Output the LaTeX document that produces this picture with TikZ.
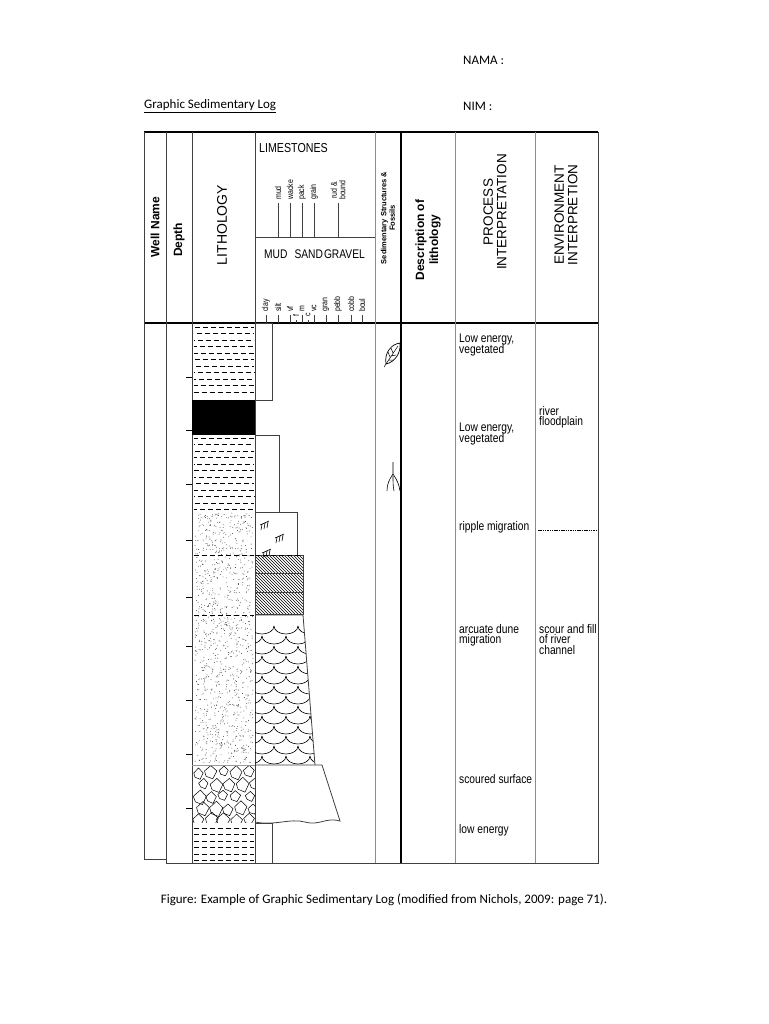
\documentclass[tikz,border=0pt]{standalone}
\usepackage{fontspec}
\setmainfont{Carlito}
\newfontfamily\arl[FakeStretch=0.82]{Liberation Sans}
\newfontfamily\arw{Liberation Sans}
\usetikzlibrary{patterns}
\begin{document}
\begin{tikzpicture}[x=1pt,y=-1pt,
  grid/.style={line width=0.8pt,draw=black!75},
  thk/.style={line width=1.4pt},
  lab/.style={font=\arl\fontsize{12.5}{12.5}\selectfont,anchor=north west,align=left,inner sep=0},
  rot/.style={rotate=90,align=center,inner sep=0},
  tk/.style={font=\arl\fontsize{8.5}{8.5}\selectfont,rotate=90,anchor=west,inner sep=1pt},
  mudd/.style={dash pattern=on 5pt off 3pt,line width=0.9pt}]
\useasboundingbox (0,0) rectangle (768,1024);
% top texts
\node[anchor=west,inner sep=0,font=\fontsize{13}{13}\selectfont] (nama) at (463,60) {NAMA :};
\node[anchor=west,inner sep=0,font=\fontsize{13}{13}\selectfont] (nim) at (463,106) {NIM :};
\node[anchor=west,inner sep=0,font=\fontsize{13}{13}\selectfont] (title) at (144,106) {\underline{Graphic Sedimentary Log}};
\node[inner sep=0,font=\fontsize{13}{13}\selectfont] (cap) at (384,900) {Figure: Example of Graphic Sedimentary Log (modified from Nichols, 2009: page 71).};
% table frame
\draw[thk] (144,132) -- (598,132);
\draw[thk] (144,323) -- (598,323);
\draw[grid] (144,132) -- (144,859) -- (166,859);
\draw[grid] (166,132) -- (166,863) -- (598,863) -- (598,132);
\draw[grid] (192,132) -- (192,863);
\draw[grid] (255,132) -- (255,863);
\draw[grid,draw=black!45] (375,132) -- (375,863);
\draw[thk] (401,132) -- (401,863);
\draw[grid,draw=black!45] (455,132) -- (455,863);
\draw[grid,draw=black!45] (535,132) -- (535,863);
\draw[grid] (255,237) -- (375,237);
% header labels
\node[rot,font=\arw\bfseries\fontsize{12}{12}\selectfont] (wn) at (155,227) {Well Name};
\node[rot,font=\arw\bfseries\fontsize{12}{12}\selectfont] (dp) at (179,240) {Depth};
\node[rot,font=\arw\fontsize{14}{14}\selectfont] (li) at (222,225) {LITHOLOGY};
\node[rot,font=\arw\bfseries\fontsize{7.5}{8.5}\selectfont] (ss) at (388,218) {Sedimentary Structures \&\\Fossils};
\node[rot,font=\arw\bfseries\fontsize{12}{14}\selectfont] (de) at (428,240) {Description of\\lithology};
\node[rot,font=\arw\fontsize{13.5}{13.5}\selectfont] (pr) at (495,212) {PROCESS\\INTERPRETATION};
\node[rot,font=\arw\fontsize{13.5}{13.5}\selectfont] (en) at (566,215) {ENVIRONMENT\\INTERPRETION};
\node[anchor=west,inner sep=0,font=\arl\fontsize{13}{13}\selectfont] (ls) at (259,148) {LIMESTONES};
\node[anchor=west,inner sep=0,font=\arl\fontsize{12.5}{12.5}\selectfont] (msg) at (264,254) {MUD\hspace{7pt}SAND\hspace{1pt}GRAVEL};
\foreach \x/\t in {278/mud,290/wacke,302/pack,314/grain}{
  \node[tk] at (\x,201) {\t};
  \draw[grid,line width=0.6pt] (\x,203) -- (\x,237);}
\node[rotate=90,anchor=west,inner sep=1pt,align=center,font=\arl\fontsize{8.5}{8.5}\selectfont] at (338,201) {rud \&\\bound};
\draw[grid,line width=0.6pt] (338,203) -- (338,237);
\foreach \x/\t/\yy in {266/clay/313,278/silt/313,290/vf/313,296/f/318,302/m/313,308/c/318,314/vc/313,326/gran/313,338/pebb/313,351/cobb/313,362/boul/313}{
  \node[tk] at (\x,\yy) {\t};
  \draw[grid,line width=0.6pt] (\x,\yy+2) -- (\x,323);}
% depth ticks
\foreach \y in {377,430,484,540,597,646,700,754,808} \draw[line width=0.9pt] (186,\y) -- (192,\y);
% mud units
\foreach \y in {327,333.5,...,398} \draw[mudd,dash phase=\y] (194,\y) -- (254,\y);
\foreach \y in {438,444.5,...,510} \draw[mudd,dash phase=\y*1.7] (194,\y) -- (254,\y);
\foreach \y in {828,834.5,...,861} \draw[mudd] (194,\y) -- (254,\y);
% coal
\fill (192,400) rectangle (255,435);
% sand dots
\pgfmathsetseed{7}
\foreach \i in {1,...,1100} \fill[black!75] ({195+58*rnd},{513+250*rnd}) circle (0.45);
\draw[mudd,line width=0.8pt] (194,555) -- (254,555);
\draw[mudd,line width=0.8pt] (194,615) -- (254,615);
% conglomerate
\begin{scope}
\clip (193,766) rectangle (255,822);
\foreach \i in {0,...,4} \foreach \j in {0,...,4}{
  \pgfmathsetmacro\cx{197+\j*12.5+5*mod(\i,2)+3*rnd}
  \pgfmathsetmacro\cy{771+\i*12+3*rnd}
  \pgfmathsetmacro\s{0.9+0.6*rnd}
  \draw[line width=0.5pt] ({\cx-4*\s-rnd},{\cy-1*\s}) -- ({\cx+0.5*\s},{\cy-5*\s-rnd}) -- ({\cx+4.5*\s+rnd},{\cy-1*\s}) -- ({\cx+2*\s},{\cy+4.5*\s+rnd}) -- ({\cx-3*\s},{\cy+3*\s}) -- cycle;}
\end{scope}
\draw[black!40] (192,765) -- (255,765);
% grain-size boxes
\draw[grid] (255,323) -- (272,323) -- (272,400) -- (255,400);
\draw[grid] (255,435) -- (279,435) -- (279,512) -- (255,512);
\draw[grid] (255,512) rectangle (297,555);
\begin{scope}
\clip (255,555) rectangle (303,614);
\fill[pattern=north west lines] (255,555) rectangle (303,614);
\end{scope}
\draw[grid] (255,555) rectangle (303,614);
\draw[grid] (255,573) -- (303,573) (255,592) -- (303,592);
\draw[mudd,line width=0.8pt] (255,555) -- (303,555);
\begin{scope}
\clip (255,615) -- (303,615) -- (315,765) -- (255,765) -- cycle;
\foreach \r in {0,...,15}{
  \pgfmathsetmacro\yy{626+\r*10}
  \pgfmathsetmacro\off{mod(\r,2)*12}
  \foreach \k in {-1,...,3} \draw[line width=0.6pt] ({250+\off+\k*24},\yy) arc (180:0:12 and 8);}
\end{scope}
\draw[grid] (255,615) -- (303,615) -- (315,765);
\draw[grid] (255,765) -- (322,765) -- (340,821) .. controls (325,817) and (320,826) .. (305,822) .. controls (290,818) and (275,826) .. (255,822);
\draw[grid] (255,823) -- (272,823) -- (272,863);
% ripple symbols
\foreach \px/\py in {260/521,275/534,262/549}{
  \draw[line width=0.6pt] (\px,\py+4) -- (\px+9,\py) (\px+2,\py+3.5) -- (\px+1,\py+9) (\px+5,\py+2.2) -- (\px+4,\py+8) (\px+8,\py+1) -- (\px+7,\py+7);}
% leaf
\draw[line width=0.7pt] (386,364) .. controls (384,352) and (392,344) .. (400,343) .. controls (401,353) and (395,362) .. (386,364) -- cycle;
\draw[line width=0.5pt] (384,367) -- (398,346) (390,357) -- (388,352) (393,353) -- (391,348) (391,356) -- (396,355) (388,360) -- (393,360);
% roots
\draw[line width=0.6pt] (393,462) -- (393,474) .. controls (389,480) and (387,484) .. (387,491) (393,474) .. controls (397,480) and (399,484) .. (400,491) (393,476) .. controls (393,482) and (393,486) .. (394,491);
% process texts
\node[lab] (p1) at (459,334) {Low energy,\\[-2pt]vegetated};
\node[lab] (p2) at (459,423) {Low energy,\\[-2pt]vegetated};
\node[lab] (p3) at (459,521) {ripple migration};
\node[lab] (p4) at (459,624) {arcuate dune\\[-2pt]migration};
\node[lab] (p5) at (459,774) {scoured surface};
\node[lab] (p6) at (459,824) {low energy};
\node[lab] (e1) at (539,406) {river\\[-2pt]floodplain};
\node[lab] (e2) at (539,624) {scour and fill\\[-2pt]of river\\[-2pt]channel};
\draw[line width=0.5pt,dash pattern=on 1.5pt off 0.8pt] (538,530) -- (597,530);
\end{tikzpicture}
\end{document}
